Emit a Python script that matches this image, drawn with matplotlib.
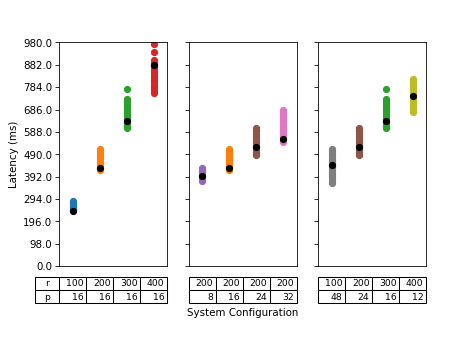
import numpy as np
import matplotlib
matplotlib.use("Agg")
import matplotlib.pyplot as plt
from matplotlib.table import Table

# latency samples (ms) for each (r, p) configuration
lat_100_16 = [245, 250, 255, 260, 265, 270, 275, 280, 285]
lat_200_16 = [420, 425, 432, 440, 448, 455, 462, 470, 478, 486, 495, 505, 515]
lat_300_16 = [605, 612, 620, 628, 636, 645, 655, 665, 675, 685, 695, 705,
              715, 725, 732, 778]
lat_400_16 = [760, 768, 776, 785, 795, 805, 815, 825, 835, 845, 855, 865,
              875, 885, 895, 905, 940, 975]
lat_200_8 = [375, 382, 390, 398, 406, 414, 422, 430]
lat_200_24 = [485, 493, 502, 511, 520, 530, 540, 550, 560, 570, 580, 590,
              598, 605]
lat_200_32 = [545, 552, 560, 570, 580, 590, 600, 610, 620, 630, 640, 650,
              660, 670, 678, 685]
lat_100_48 = [365, 375, 385, 395, 405, 415, 425, 435, 445, 455, 465, 475,
              485, 495, 505, 515]
lat_400_12 = [677, 685, 695, 705, 715, 725, 735, 745, 755, 765, 775, 785,
              795, 805, 812, 818]

# black markers (average latency) per configuration
avg_100_16 = 242
avg_200_16 = 432
avg_300_16 = 637
avg_400_16 = 879
avg_200_8 = 395
avg_200_24 = 521
avg_200_32 = 558
avg_100_48 = 444
avg_400_12 = 744

panel_r = [[100, 200, 300, 400], [200, 200, 200, 200], [100, 200, 300, 400]]
panel_p = [[16, 16, 16, 16], [8, 16, 24, 32], [48, 24, 16, 12]]

samples = {
    (100, 16): (lat_100_16, avg_100_16, "C0"),
    (200, 16): (lat_200_16, avg_200_16, "C1"),
    (300, 16): (lat_300_16, avg_300_16, "C2"),
    (400, 16): (lat_400_16, avg_400_16, "C3"),
    (200, 8): (lat_200_8, avg_200_8, "C4"),
    (200, 24): (lat_200_24, avg_200_24, "C5"),
    (200, 32): (lat_200_32, avg_200_32, "C6"),
    (100, 48): (lat_100_48, avg_100_48, "C7"),
    (400, 12): (lat_400_12, avg_400_12, "C8"),
}

yticks = np.arange(0, 981, 98)


def add_config_table(ax, rs, ps, with_labels):
    lab_w = 0.222
    x0 = -lab_w if with_labels else 0.0
    width = 1 + lab_w if with_labels else 1.0
    tab = Table(ax, bbox=[x0, -0.166, width, 0.117])
    off = 0
    if with_labels:
        tab.add_cell(0, 0, lab_w, 1, text="r", loc="center")
        tab.add_cell(1, 0, lab_w, 1, text="p", loc="center")
        off = 1
    for i, (r, p) in enumerate(zip(rs, ps)):
        tab.add_cell(0, i + off, 0.25, 1, text=str(r), loc="right")
        tab.add_cell(1, i + off, 0.25, 1, text=str(p), loc="right")
    tab.auto_set_font_size(False)
    tab.set_fontsize(9)
    ax.add_table(tab)


fig, axes = plt.subplots(1, 3, sharey=True, figsize=(6.4, 4.8), dpi=74)
fig.subplots_adjust(bottom=0.25)

for k, ax in enumerate(axes):
    for i, (r, p) in enumerate(zip(panel_r[k], panel_p[k])):
        vals, avg, col = samples[(r, p)]
        ax.scatter([i] * len(vals), vals, color=col, s=36, zorder=2)
        ax.scatter([i], [avg], color="black", s=36, zorder=3)
    ax.set_xlim(-0.5, 3.5)
    ax.set_xticks([])
    add_config_table(ax, panel_r[k], panel_p[k], k == 0)

axes[0].set_ylim(0, 980)
axes[0].set_yticks(yticks)
axes[0].set_yticklabels([f"{v:.1f}" for v in yticks])
axes[0].set_ylabel("Latency (ms)")

axes[1].set_xlabel("System Configuration")
axes[1].xaxis.set_label_coords(0.5, -0.185)

fig.savefig("out.png", dpi=74)
